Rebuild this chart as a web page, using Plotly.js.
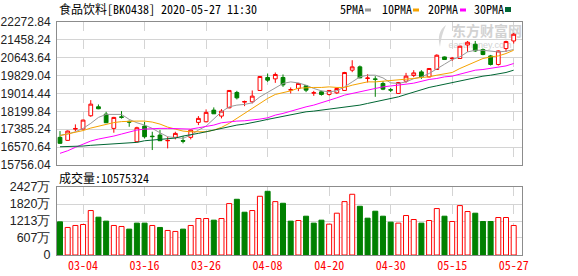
<!DOCTYPE html>
<html><head><meta charset="utf-8">
<script src="https://cdn.plot.ly/plotly-3.0.1.min.js"></script>
<style>html,body{margin:0;padding:0;background:#fff}#chart{width:578px;height:276px}</style>
</head><body><div id="chart"></div>
<script>
const dates = ["2020-02-28","2020-03-02","2020-03-03","2020-03-04","2020-03-05","2020-03-06","2020-03-09","2020-03-10","2020-03-11","2020-03-12",
"2020-03-13","2020-03-16","2020-03-17","2020-03-18","2020-03-19","2020-03-20","2020-03-23","2020-03-24","2020-03-25","2020-03-26",
"2020-03-27","2020-03-30","2020-03-31","2020-04-01","2020-04-02","2020-04-03","2020-04-07","2020-04-08","2020-04-09","2020-04-10",
"2020-04-13","2020-04-14","2020-04-15","2020-04-16","2020-04-17","2020-04-20","2020-04-21","2020-04-22","2020-04-23","2020-04-24",
"2020-04-27","2020-04-28","2020-04-29","2020-04-30","2020-05-06","2020-05-07","2020-05-08","2020-05-11","2020-05-12","2020-05-13",
"2020-05-14","2020-05-15","2020-05-18","2020-05-19","2020-05-20","2020-05-21","2020-05-22","2020-05-25","2020-05-26","2020-05-27"];
const openP = [17016,16879,17390,17393,17999,18409,18075,17424,17950,17745,16817,17530,17070,17120,16860,17016,16870,17016,17698,17727,
18257,17985,18362,19062,18620,18635,19153,19745,19681,19745,19170,19244,19363,19030,19090,18971,19044,19153,20077,20228,
19700,19680,19472,19190,19017,19576,19836,19999,19772,20108,20681,20600,20609,21227,21259,21018,20727,20336,21063,21409];
const highP = [17302,17330,17607,17820,18712,18515,18182,17950,18212,17780,17500,17727,17272,17348,17045,17272,17075,17370,17985,18289,
18380,18303,19170,19135,18690,19153,19800,19926,19972,19881,19290,19500,19390,19135,19140,19170,19290,20000,20531,20289,
19895,19804,19576,19272,19540,19954,20077,20077,20170,20800,20700,20681,21190,21409,21409,21064,20773,20980,21420,21773];
const lowP = [16730,16860,17302,17380,17953,18300,17670,17226,17870,17498,16800,16969,16438,16850,16514,16925,16743,16924,17575,17700,
18080,17880,18340,18744,18439,18562,19140,19545,19499,19317,19017,19122,19076,18908,18920,18920,18990,19140,19986,19710,
19516,18863,19167,19076,19000,19499,19758,19681,19750,20090,20540,20500,20590,20909,20909,20759,20289,20289,20909,21291];
const closeP = [16743,17302,17420,17803,18530,18318,17681,17924,17930,17710,17454,17045,17050,16863,16875,17196,16840,17348,17880,18153,
18089,18212,19153,18817,18650,18894,19790,19622,19881,19408,19190,19472,19167,19050,18971,19153,19244,19972,20228,19728,
19720,19660,19212,19170,19516,19804,19954,19772,20154,20759,20563,20620,21168,21350,20954,20791,20336,20954,21382,21714];
const ma5 = [17107,17166,17270,17425,17653,17925,18062,18075,18062,17834,17680,17575,17425,17225,17043,17007,16970,17120,17348,17530,
17848,18180,18407,18485,18517,18589,18862,19062,19290,19472,19544,19494,19394,19244,19135,19090,19135,19317,19544,19772,
19849,19849,19726,19499,19472,19544,19690,19772,19927,20154,20349,20563,20681,20909,20986,20986,20941,20909,20941,21018];
const ma10 = [17098,17166,17225,17325,17439,17530,17621,17689,17734,17757,17757,17757,17712,17621,17484,17393,17302,17270,17270,17270,
17348,17471,17653,17880,18107,18335,18530,18789,18971,19044,19135,19258,19290,19290,19290,19317,19290,19290,19394,19472,
19544,19544,19576,19576,19622,19654,19699,19745,19772,19849,19927,19972,20154,20304,20454,20609,20681,20727,20836,20986];
const ma20 = [16288,16406,16561,16711,16848,16938,16998,17075,17166,17270,17348,17393,17425,17425,17425,17416,17393,17393,17452,17498,
17575,17680,17725,17757,17771,17803,17848,17907,18030,18107,18212,18312,18407,18485,18589,18712,18817,18940,19017,19122,
19199,19244,19317,19349,19394,19440,19485,19576,19654,19699,19772,19804,19895,19999,20077,20108,20154,20199,20272,20381];
const ma30 = [16588,16588,16606,16620,16652,16679,16711,16725,16743,16770,16788,16861,16893,16925,16952,16984,17075,17120,17198,17270,
17348,17452,17530,17575,17621,17680,17757,17834,17907,17985,18062,18135,18180,18212,18257,18289,18335,18380,18439,18485,
18562,18635,18712,18789,18862,18971,19076,19199,19290,19363,19440,19517,19590,19667,19745,19804,19849,19895,19972,20077];
// volume in 万
const volume = [1184,983,1054,1089,1587,1350,1208,1054,1018,923,1137,1137,1054,983,876,841,923,1054,1302,1302,
1243,1302,1835,1989,1527,1587,2096,2273,1906,1847,1208,1231,1385,1137,1243,1101,1492,1906,2167,1740,
1314,1563,1385,1172,1137,1409,1267,1137,1231,1658,1385,1196,1764,1551,1492,1196,1196,1338,1338,1054];
// 1 = up (red hollow), 0 = down (green)
const volUp = [0,1,1,1,1,0,0,1,1,0,0,0,1,0,1,1,0,1,1,1,0,1,1,0,0,1,1,0,1,0,
0,1,0,0,0,1,1,1,1,0,0,0,0,0,1,1,1,0,1,1,0,1,1,1,0,0,0,1,1,1];
const tickDates = ["2020-03-04","2020-03-16","2020-03-26","2020-04-08","2020-04-20","2020-04-30","2020-05-15","2020-05-27"];
const tickLabels = ["03-04","03-16","03-26","04-08","04-20","04-30","05-15","05-27"];
const priceTicks = [15756.04,16570.64,17385.24,18199.84,19014.44,19829.04,20643.64,21458.24,22272.84];
const volTicks = [0,607,1213,1820,2427];
const volTickLabels = ["0","607万","1213万","1820万","2427万"];
const titleText = "食品饮料[BK0438] 2020-05-27 11:30";
const volText = "成交量:10575324";
const maNames = ["5PMA","10PMA","20PMA","30PMA"];

const RED = "#ff0000", GREEN = "#008000";
const maColors = ["#999999","#f5a300","#ff00ff","#006633"];
const SIM = '"Noto Sans Mono CJK SC","Noto Sans CJK SC","Liberation Mono",monospace';
const LAB = '"Liberation Sans",Arial,sans-serif';

// layout geometry (pixels)
const W = 578, H = 276, L = 57, R = 522, T = 22, B = 255;
const px2x = p => (p - L) / (R - L);
const px2y = p => (B - p) / (B - T);

const traces = [];
traces.push({
  type: "candlestick", x: dates, open: openP, high: highP, low: lowP, close: closeP,
  xaxis: "x", yaxis: "y",
  increasing: {line: {color: RED, width: 1}, fillcolor: "#ffffff"},
  decreasing: {line: {color: GREEN, width: 1}, fillcolor: GREEN},
  whiskerwidth: 0, hoverinfo: "skip"
});
[ma5, ma10, ma20, ma30].forEach((m, i) => traces.push({
  type: "scatter", mode: "lines", x: dates, y: m, xaxis: "x", yaxis: "y",
  line: {color: maColors[i], width: 1}, hoverinfo: "skip"
}));
traces.push({
  type: "bar", x: dates, y: volume, xaxis: "x2", yaxis: "y2",
  marker: {color: volUp.map(u => u ? "#ffffff" : GREEN),
           line: {color: volUp.map(u => u ? RED : GREEN), width: 1}},
  hoverinfo: "skip"
});

const gridC = "#d4d4d4", axisC = "#8c8c8c";
const xCommon = {
  type: "category", range: [-0.39, 60.08], showgrid: true, gridcolor: gridC, griddash: "dash", gridwidth: 1,
  tickmode: "array", tickvals: tickDates, ticktext: tickLabels, showline: true, mirror: true,
  linecolor: axisC, linewidth: 1, zeroline: false, ticks: "", fixedrange: true
};
const layout = {
  width: W, height: H, margin: {l: L, r: W - R, t: T, b: H - B, pad: 0},
  paper_bgcolor: "#ffffff", plot_bgcolor: "#ffffff", showlegend: false, hovermode: false, dragmode: false,
  bargap: 0.35,
  xaxis: Object.assign({}, xCommon, {anchor: "y", showticklabels: false, rangeslider: {visible: false}}),
  xaxis2: Object.assign({}, xCommon, {anchor: "y2", matches: "x", showticklabels: true,
    tickfont: {family: SIM, size: 12, color: RED}}),
  yaxis: {domain: [px2y(165), 1], range: [priceTicks[0], priceTicks[priceTicks.length - 1]],
    tickmode: "array", tickvals: priceTicks, ticktext: priceTicks.map(v => v.toFixed(2)),
    showgrid: true, gridcolor: gridC, gridwidth: 1, showline: true, mirror: true, linecolor: axisC, linewidth: 1,
    zeroline: false, ticks: "outside", ticklen: 3, tickcolor: "rgba(0,0,0,0)",
    tickfont: {family: LAB, size: 12, color: "#222"}, fixedrange: true},
  yaxis2: {domain: [0, px2y(187)], range: [0, volTicks[volTicks.length - 1]],
    tickmode: "array", tickvals: volTicks, ticktext: volTickLabels,
    showgrid: true, gridcolor: gridC, gridwidth: 1, showline: true, mirror: true, linecolor: axisC, linewidth: 1,
    zeroline: false, ticks: "outside", ticklen: 3, tickcolor: "rgba(0,0,0,0)",
    tickfont: {family: LAB, size: 12.5, color: "#222"}, fixedrange: true},
  annotations: [],
  shapes: []
};
layout.annotations.push({xref: "paper", yref: "paper", x: px2x(57), y: px2y(8.5), xanchor: "left", yanchor: "middle",
  text: titleText, showarrow: false, font: {family: SIM, size: 12, color: "#000"}});
layout.annotations.push({xref: "paper", yref: "paper", x: px2x(57), y: px2y(177), xanchor: "left", yanchor: "middle",
  text: volText, showarrow: false, font: {family: SIM, size: 12, color: "#000"}});
const legTextX = [338, 380, 426, 472], legMarkX = [365, 413, 460, 505];
maNames.forEach((n, i) => {
  layout.annotations.push({xref: "paper", yref: "paper", x: px2x(legTextX[i]), y: px2y(8.5), xanchor: "left", yanchor: "middle",
    text: n, showarrow: false, font: {family: SIM, size: 12, color: "#000"}});
  const tall = i === 3;
  layout.shapes.push({type: "rect", xref: "paper", yref: "paper", x0: px2x(legMarkX[i]), x1: px2x(legMarkX[i] + 6),
    y0: px2y(tall ? 12 : 11.5), y1: px2y(tall ? 7 : 8.5), fillcolor: maColors[i], line: {width: 0}});
});
// watermark
layout.shapes.push({type: "rect", xref: "paper", yref: "paper", x0: px2x(450), x1: px2x(524), y0: px2y(39), y1: px2y(24),
  line: {width: 0}, fillcolor: "rgba(0,0,0,0)", layer: "below",
  label: {text: "<b>东方财富网</b>", font: {family: '"Noto Sans CJK SC",sans-serif', size: 14, color: "#d2d2d2"}, textposition: "middle center"}});
layout.shapes.push({type: "rect", xref: "paper", yref: "paper", x0: px2x(448), x1: px2x(512), y0: px2y(48), y1: px2y(40),
  line: {width: 0}, fillcolor: "rgba(0,0,0,0)", layer: "below",
  label: {text: "eastmoney.com", font: {family: LAB, size: 9, color: "#d2d2d2"}, textposition: "middle center"}});
layout.shapes.push({type: "path", xref: "paper", yref: "paper", layer: "below",
  path: `M ${px2x(446)} ${px2y(25)} Q ${px2x(436)} ${px2y(32)} ${px2x(440)} ${px2y(47)} Q ${px2x(441)} ${px2y(36)} ${px2x(446)} ${px2y(25)} Z`,
  fillcolor: "#d8d8d8", line: {width: 0}});

Plotly.newPlot("chart", traces, layout, {staticPlot: true, displayModeBar: false});
</script></body></html>
